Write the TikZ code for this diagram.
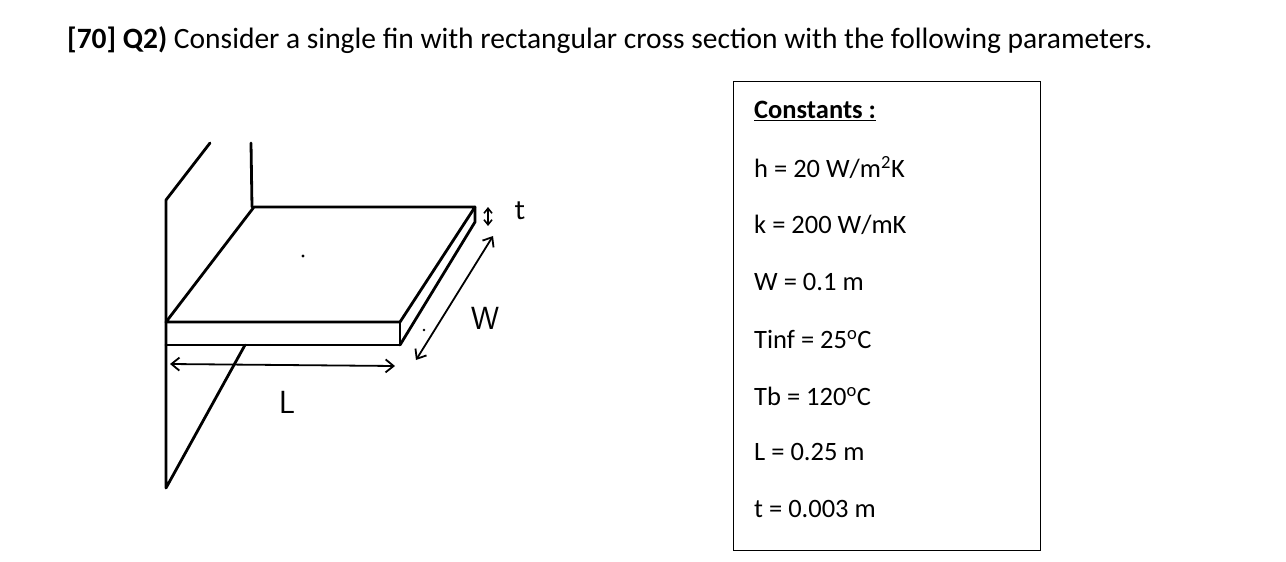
\documentclass[tikz,border=0pt]{standalone}
\usepackage{fontspec}
\setmainfont{Carlito}
\usetikzlibrary{arrows.meta}
\begin{document}
\begin{tikzpicture}[x=1pt,y=-1pt,
  sk/.style={line width=2.8pt,line cap=round,line join=round},
  dim/.style={line width=1.8pt,{Straight Barb[length=8pt,width=13pt]}-{Straight Barb[length=8pt,width=13pt]}},
  lbl/.style={font=\fontsize{32}{36}\selectfont\sffamily},
  tx/.style={anchor=west,font=\fontsize{26.5}{30}\selectfont,inner sep=0pt}]
\useasboundingbox (0,0) rectangle (1286,562);
\node[anchor=west,inner sep=0pt,font=\fontsize{29.5}{34}\selectfont] (title) at (67,40) {\textbf{[70] Q2)} Consider a single fin with rectangular cross section with the following parameters.};
% wall
\draw[sk] (210,143) -- (166,200) -- (166,488) -- (245,345);
\draw[sk] (251,143) -- (252,207);
% plate
\draw[sk] (166,322) -- (254,207) -- (475,207) -- (400,322) -- cycle;
\draw[sk] (166,345) -- (400,345) -- (400,322);
\draw[sk] (400,345) -- (475,222) -- (475,207);
\fill (303,256) circle (1.6pt);
\fill (424,330) circle (1.3pt);
% dimensions
\coordinate (La) at (170,364); \coordinate (Lb) at (395,366);
\draw[dim] (La) -- (Lb);
\node[lbl] (L) at (287,402) {L};
\coordinate (Wa) at (416,360); \coordinate (Wb) at (493,236);
\draw[dim] (Wa) -- (Wb);
\node[lbl] (W) at (485,318) {W};
\coordinate (ta) at (488,207); \coordinate (tb) at (488,226);
\draw[line width=1.6pt,{Straight Barb[length=5pt,width=8pt]}-{Straight Barb[length=5pt,width=8pt]}] (ta) -- (tb);
\node[lbl] (t) at (520,211) {t};
% table
\node[draw,line width=1.2pt,minimum width=307pt,minimum height=469pt,anchor=north west] (box) at (733,81) {};
\node[tx] (c0) at (754,111) {\textbf{\underline{Constants :}}};
\node[tx] (c1) at (754,168) {h = 20 W/m\textsuperscript{2}K};
\node[tx] (c2) at (754,225) {k = 200 W/mK};
\node[tx] (c3) at (754,282) {W = 0.1 m};
\node[tx] (c4) at (754,339) {Tinf = 25\textsuperscript{o}C};
\node[tx] (c5) at (754,396) {Tb = 120\textsuperscript{o}C};
\node[tx] (c6) at (754,452) {L = 0.25 m};
\node[tx] (c7) at (754,509) {t = 0.003 m};
\end{tikzpicture}
\end{document}
